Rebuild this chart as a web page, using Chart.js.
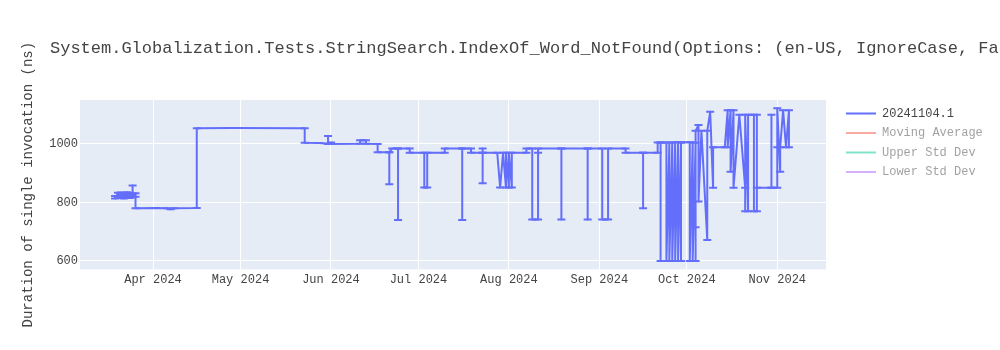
<!DOCTYPE html>
<html>
<head>
<meta charset="utf-8">
<title>IndexOf_Word_NotFound</title>
<script src="https://cdn.jsdelivr.net/npm/chart.js@4.4.1/dist/chart.umd.min.js"></script>
<style>
  html, body { margin: 0; padding: 0; background: #fff; }
  #wrap { width: 1000px; height: 350px; }
</style>
</head>
<body>
<div id="wrap"><canvas id="perfChart" width="1000" height="350"></canvas></div>
<script>
// Chart text
const chartTitle = 'System.Globalization.Tests.StringSearch.IndexOf_Word_NotFound(Options: (en-US, IgnoreCase, False))';
const yAxisTitle = 'Duration of single invocation (ns)';

// Series shown in the legend (only the first one has points drawn)
const seriesNames = ['20241104.1', 'Moving Average', 'Upper Std Dev', 'Lower Std Dev'];
const seriesColors = ['#636efa', '#ef553b', '#00cc96', '#ab63fa'];

// Axis ticks
const monthTicks = ['2024-04-01', '2024-05-01', '2024-06-01', '2024-07-01', '2024-08-01', '2024-09-01', '2024-10-01', '2024-11-01'];
const monthLabels = ['Apr 2024', 'May 2024', 'Jun 2024', 'Jul 2024', 'Aug 2024', 'Sep 2024', 'Oct 2024', 'Nov 2024'];
const valueTicks = [600, 800, 1000];

// Benchmark runs, in the order they were recorded (ns)
const runDates = [
    '2024-03-19', '2024-03-19', '2024-03-20', '2024-03-20', '2024-03-21', '2024-03-21', '2024-03-22', '2024-03-22',
    '2024-03-23', '2024-03-23', '2024-03-24', '2024-03-24', '2024-03-25', '2024-03-25', '2024-03-25', '2024-03-26',
    '2024-03-26', '2024-03-26',
    '2024-04-02', '2024-04-06', '2024-04-07', '2024-04-08', '2024-04-16', '2024-04-16', '2024-04-28', '2024-05-23',
    '2024-05-23', '2024-05-28', '2024-05-31', '2024-05-31', '2024-05-31', '2024-06-01', '2024-06-01', '2024-06-11',
    '2024-06-11', '2024-06-13', '2024-06-13', '2024-06-17', '2024-06-17', '2024-06-21', '2024-06-21', '2024-06-21',
    '2024-06-22', '2024-06-24', '2024-06-24', '2024-06-24', '2024-06-28', '2024-06-28', '2024-07-03', '2024-07-03',
    '2024-07-04', '2024-07-04', '2024-07-10', '2024-07-10', '2024-07-16', '2024-07-16', '2024-07-16', '2024-07-19',
    '2024-07-19', '2024-07-23', '2024-07-23', '2024-07-23', '2024-07-23', '2024-07-28', '2024-07-29', '2024-07-30',
    '2024-07-31', '2024-07-31', '2024-08-01', '2024-08-01', '2024-08-02', '2024-08-02', '2024-08-07', '2024-08-07',
    '2024-08-09', '2024-08-09', '2024-08-11', '2024-08-11', '2024-08-11', '2024-08-19', '2024-08-19', '2024-08-19',
    '2024-08-28', '2024-08-28', '2024-08-28', '2024-09-02', '2024-09-02', '2024-09-04', '2024-09-04', '2024-09-10',
    '2024-09-10', '2024-09-16', '2024-09-16', '2024-09-16', '2024-09-21', '2024-09-21', '2024-09-22', '2024-09-22',
    '2024-09-22', '2024-09-24', '2024-09-24', '2024-09-25', '2024-09-25', '2024-09-26', '2024-09-26', '2024-09-27',
    '2024-09-27', '2024-09-28', '2024-09-28', '2024-09-29', '2024-09-29', '2024-09-29', '2024-10-02', '2024-10-02',
    '2024-10-03', '2024-10-03', '2024-10-04', '2024-10-04', '2024-10-04', '2024-10-04', '2024-10-05', '2024-10-05',
    '2024-10-06', '2024-10-08', '2024-10-08', '2024-10-09', '2024-10-10', '2024-10-10', '2024-10-14', '2024-10-15',
    '2024-10-15', '2024-10-16', '2024-10-16', '2024-10-17', '2024-10-17', '2024-10-19', '2024-10-21', '2024-10-21',
    '2024-10-21', '2024-10-22', '2024-10-22', '2024-10-24', '2024-10-24', '2024-10-25', '2024-10-25', '2024-10-25',
    '2024-10-30', '2024-10-30', '2024-10-30', '2024-11-01', '2024-11-01', '2024-11-01', '2024-11-02', '2024-11-02',
    '2024-11-03', '2024-11-04', '2024-11-05', '2024-11-05'
];
const runValues = [
    822, 814, 833, 816, 834, 815, 832, 814,
    835, 816, 833, 815, 830, 858, 818, 832,
    820, 780,
    781, 780, 777, 780, 781, 1054, 1055, 1054,
    1004, 1003, 1001, 1027, 1000, 1005, 1000, 1001,
    1013, 1013, 1001, 1000, 972, 972, 862, 972,
    985, 985, 740, 985, 985, 970, 970, 851,
    851, 970, 970, 985, 985, 740, 985, 985,
    970, 970, 985, 866, 970, 970, 851, 970,
    851, 970, 851, 970, 851, 970, 970, 985,
    985, 742, 742, 970, 985, 985, 742, 985,
    985, 742, 985, 985, 742, 742, 985, 985,
    970, 970, 780, 970, 970, 1005, 1005, 600,
    1005, 1005, 600, 1005, 600, 1005, 600, 1005,
    600, 1007, 600, 1004, 600, 1006, 1006, 600,
    1005, 600, 1004, 600, 715, 1045, 1065, 803,
    1045, 672, 1045, 1110, 850, 989, 989, 1115,
    989, 1115, 905, 1115, 850, 1100, 850, 770,
    1100, 770, 1100, 1100, 770, 770, 1100, 850,
    850, 1100, 850, 850, 989, 1122, 905, 989,
    1115, 989, 1115, 989
];

// visible window of the plot (days since 2024-01-01, ns)
const xRange = [65.97, 321.7];
const yRange = [571.6, 1150.4];

const FONT = '"Liberation Mono", "Courier New", monospace';
const dayNum = s => (Date.parse(s) - Date.parse('2024-01-01')) / 86400000;

function fade(hex) {
    const n = parseInt(hex.slice(1), 16);
    return `rgba(${(n >> 16) & 255}, ${(n >> 8) & 255}, ${n & 255}, 0.5)`;
}

// paper + plot background, title and y-axis title (plotly look)
const plotDecor = {
    id: 'plotDecor',
    beforeDraw(chart) {
        const { ctx, chartArea: a } = chart;
        ctx.save();
        ctx.fillStyle = '#ffffff';
        ctx.fillRect(0, 0, chart.width, chart.height);
        ctx.fillStyle = '#e5ecf6';
        ctx.fillRect(a.left, a.top, a.right - a.left, a.bottom - a.top);

        ctx.fillStyle = '#444';
        ctx.font = '17px ' + FONT;
        ctx.textAlign = 'left';
        ctx.textBaseline = 'alphabetic';
        ctx.fillText(chartTitle, 50, 53);

        ctx.font = '14px ' + FONT;
        ctx.translate(28.4, (a.top + a.bottom) / 2);
        ctx.rotate(-Math.PI / 2);
        ctx.textAlign = 'center';
        ctx.textBaseline = 'middle';
        ctx.fillText(yAxisTitle, 0, 0);
        ctx.restore();
    }
};

const datasets = seriesNames.map((name, i) => ({
    label: name,
    legendOnly: i > 0,
    data: i === 0 ? runDates.map((d, k) => ({ x: dayNum(d), y: runValues[k] })) : [],
    borderColor: seriesColors[i],
    borderWidth: 2,
    borderJoinStyle: 'round',
    tension: 0,
    pointStyle: 'line',
    pointRadius: 4,
    pointHoverRadius: 4,
    pointBorderColor: seriesColors[i],
    pointBorderWidth: 2
}));

Chart.defaults.font.family = FONT;
Chart.defaults.font.size = 12;
Chart.defaults.color = '#444';

new Chart(document.getElementById('perfChart'), {
    type: 'line',
    data: { datasets },
    options: {
        responsive: false,
        animation: false,
        layout: { padding: { top: 100, right: 7.2, bottom: 0, left: 0 } },
        plugins: {
            title: { display: false },
            tooltip: { enabled: false },
            legend: {
                position: 'right',
                align: 'start',
                labels: {
                    usePointStyle: true,
                    pointStyleWidth: 30,
                    padding: 7.5,
                    font: { size: 12, family: FONT },
                    generateLabels(chart) {
                        return chart.data.datasets.map((ds, i) => ({
                            text: ds.label,
                            strokeStyle: ds.legendOnly ? fade(seriesColors[i]) : seriesColors[i],
                            fillStyle: 'transparent',
                            lineWidth: 2,
                            pointStyle: 'line',
                            fontColor: ds.legendOnly ? 'rgba(68, 68, 68, 0.5)' : '#444',
                            hidden: false,
                            datasetIndex: i
                        }));
                    }
                }
            }
        },
        scales: {
            x: {
                type: 'linear',
                min: xRange[0],
                max: xRange[1],
                afterBuildTicks: axis => { axis.ticks = monthTicks.map(d => ({ value: dayNum(d) })); },
                afterFit: axis => { axis.height = 80.7; },
                ticks: {
                    padding: 3,
                    maxRotation: 0,
                    autoSkip: false,
                    callback: (value, index) => monthLabels[index]
                },
                grid: { color: '#ffffff', lineWidth: 1, drawTicks: false },
                border: { display: false }
            },
            y: {
                type: 'linear',
                min: yRange[0],
                max: yRange[1],
                afterBuildTicks: axis => { axis.ticks = valueTicks.map(v => ({ value: v })); },
                afterFit: axis => { axis.width = 80; },
                ticks: { padding: 2, callback: value => String(value) },
                grid: { color: '#ffffff', lineWidth: 1, drawTicks: false },
                border: { display: false }
            },
            // empty spacer between plot and legend
            gap: {
                type: 'linear',
                position: 'right',
                display: true,
                afterFit: axis => { axis.width = 12.5; },
                ticks: { display: false },
                grid: { display: false },
                border: { display: false }
            }
        }
    },
    plugins: [plotDecor]
});
</script>
</body>
</html>
